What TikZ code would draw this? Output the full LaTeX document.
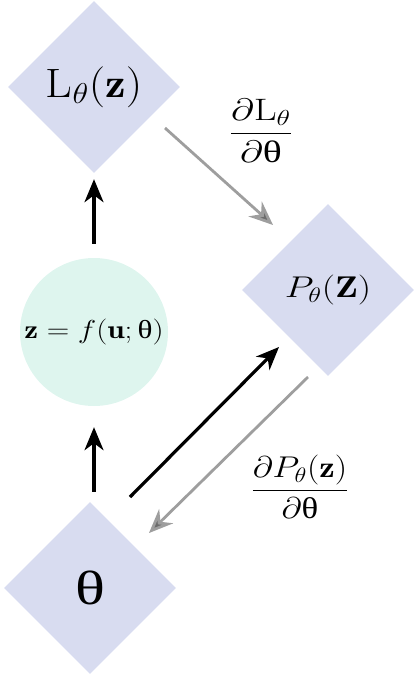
\RequirePackage{fix-cm}
\documentclass[tikz,border=0pt]{standalone}
\usepackage{amsmath}
\usepackage{graphicx}
\usepackage{fontspec}
\newfontfamily\grk{Liberation Serif}
\usetikzlibrary{shapes.geometric,arrows.meta,calc}
\definecolor{lav}{RGB}{216,220,240}
\definecolor{mint}{RGB}{222,245,238}
\definecolor{garrow}{RGB}{158,158,158}
\newcommand{\uth}{\text{\grk θ}}
\newcommand{\hs}[2]{\scalebox{#1}[1]{#2}}
\begin{document}
\begin{tikzpicture}[x=1pt,y=-1pt,
  dia/.style={diamond,aspect=1,fill=lav,draw=none,minimum width=172pt,minimum height=172pt,inner sep=0pt},
  circ/.style={circle,fill=mint,draw=none,minimum size=148pt,inner sep=0pt},
  blk/.style={line width=3.2pt,black,-{Stealth[length=23pt,width=19pt,inset=7pt]}},
  gry/.style={line width=2.8pt,garrow,-{Stealth[length=24pt,width=20pt,inset=8pt,fill=gray!85!black]}},
  lbl/.style={inner sep=0pt}]
\useasboundingbox (0,0) rectangle (418,679);
\node[dia,font=\fontsize{41}{48}\selectfont] (L) at (94,87) {\hs{1.13}{$\mathrm{L}_\theta(\mathbf{z})$}};
\node[dia,font=\fontsize{30}{36}\selectfont] (P) at (328,290) {\hs{1.25}{$P_\theta(\mathbf{Z})$}};
\node[dia,font=\fontsize{48}{56}\selectfont] (T) at (90,588) {\hs{1.3}{$\uth$}};
\node[circ,font=\fontsize{26}{32}\selectfont] (C) at (94,332) {\hs{1.2}{$\mathbf{z}=f(\mathbf{u};\uth)$}};
\draw[blk] ($(C.south |- T.north)+(0,-10)$) -- ($(C.south)+(0,21)$);
\draw[blk] ($(C.north)+(0,-14)$) -- ($(L.south)+(0,6)$);
\draw[blk] ($(T)+(40,-91)$) -- ($(P)+(-49,57)$);
\draw[gry] ($(P)+(-20,87)$) -- ($(T)+(59,-55)$);
\draw[gry] ($(L)+(71,41)$) -- ($(P)+(-55,-65)$);
\node[lbl,font=\fontsize{31}{37}\selectfont] (l1) at (261,131) {\hs{1.28}{$\displaystyle\frac{\partial\mathrm{L}_\theta}{\partial\uth}$}};
\node[lbl,font=\fontsize{30}{36}\selectfont] (l2) at (300,487) {\hs{1.16}{$\displaystyle\frac{\partial P_\theta(\mathbf{z})}{\partial\uth}$}};
\end{tikzpicture}
\end{document}
